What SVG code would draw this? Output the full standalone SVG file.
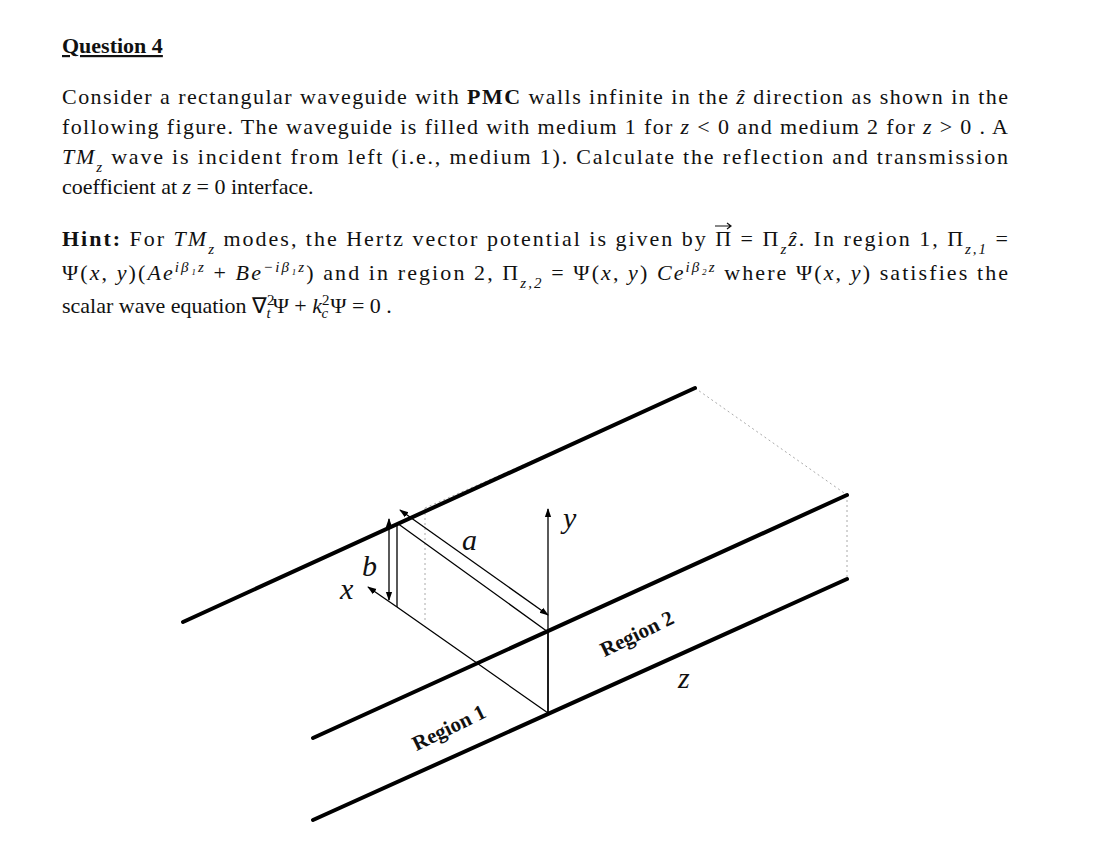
<svg xmlns="http://www.w3.org/2000/svg" width="1106" height="843" viewBox="0 0 1106 843">
<style>
.t{font-family:"Liberation Serif",serif;font-size:22px;fill:#111}
.i{font-style:italic}
.b{font-weight:bold}
.s{font-size:15px}
.th{stroke:#000;stroke-width:4;fill:none;stroke-linecap:round}
.tn{stroke:#000;stroke-width:1.3;fill:none}
.dt{stroke:#aaa;stroke-width:1;stroke-dasharray:2 3;fill:none}
.lab{font-family:"Liberation Serif",serif;font-style:italic;font-size:30px;fill:#111}
.reg{font-family:"Liberation Serif",serif;font-weight:bold;font-size:21px;fill:#111}
</style>
<defs>
<marker id="ah" viewBox="0 0 10 10" refX="9" refY="5" markerWidth="7" markerHeight="7" orient="auto-start-reverse"><path d="M0,1.5 L10,5 L0,8.5 z" fill="#000"/></marker>
</defs>
<rect width="1106" height="843" fill="#fff"/>
<text class="t b" x="62" y="53" font-size="21px" text-decoration="underline">Question 4</text>
<text class="t" x="62" y="104" textLength="946" lengthAdjust="spacing">Consider a rectangular waveguide with <tspan class="b">PMC</tspan> walls infinite in the <tspan class="i">ẑ</tspan> direction as shown in the</text>
<text class="t" x="62" y="134" textLength="946" lengthAdjust="spacing">following figure. The waveguide is filled with medium 1 for <tspan class="i">z</tspan> &lt; 0 and medium 2 for <tspan class="i">z</tspan> &gt; 0 . A</text>
<text class="t" x="62" y="164" textLength="946" lengthAdjust="spacing"><tspan class="i">TM</tspan><tspan class="i s" baseline-shift="sub">z</tspan> wave is incident from left (i.e., medium 1). Calculate the reflection and transmission</text>
<text class="t" x="62" y="194">coefficient at <tspan class="i">z</tspan> = 0 interface.</text>
<text class="t" x="62" y="246" textLength="946" lengthAdjust="spacing"><tspan class="b">Hint:</tspan> For <tspan class="i">TM</tspan><tspan class="i s" baseline-shift="sub">z</tspan> modes, the Hertz vector potential is given by Π = Π<tspan class="i s" baseline-shift="sub">z</tspan><tspan class="i">ẑ</tspan>. In region 1, Π<tspan class="i s" baseline-shift="sub">z,1</tspan> =</text>
<path d="M715,226 L731,226 M727,223 L731,226 L727,229" stroke="#111" stroke-width="1.2" fill="none"/>
<text class="t" x="62" y="280" textLength="946" lengthAdjust="spacing">Ψ(<tspan class="i">x</tspan>, <tspan class="i">y</tspan>)(<tspan class="i">Ae</tspan><tspan class="i s" baseline-shift="super">iβ₁z</tspan> + <tspan class="i">Be</tspan><tspan class="i s" baseline-shift="super">−iβ₁z</tspan>) and in region 2, Π<tspan class="i s" baseline-shift="sub">z,2</tspan> = Ψ(<tspan class="i">x</tspan>, <tspan class="i">y</tspan>) <tspan class="i">Ce</tspan><tspan class="i s" baseline-shift="super">iβ₂z</tspan> where Ψ(<tspan class="i">x</tspan>, <tspan class="i">y</tspan>) satisfies the</text>
<text class="t" x="62" y="313">scalar wave equation ∇<tspan class="s" dy="-8">2</tspan><tspan class="i s" dx="-8" dy="13">t</tspan><tspan dy="-5" dx="2">Ψ + </tspan><tspan class="i">k</tspan><tspan class="s" dy="-8">2</tspan><tspan class="i s" dx="-8" dy="13">c</tspan><tspan dy="-5" dx="2">Ψ = 0 .</tspan></text>
<g id="figure">
<path class="dt" d="M695,388 L847,495 M847,495 L847,579 M425,508 L425,620 M425,508 L580,440"/>
<path class="th" d="M183,622 L695,388"/>
<path class="th" d="M313,738 L847,495"/>
<path class="th" d="M313,820 L847,579"/>
<path class="tn" d="M397,523 L548,632 M397,523 L397,607 M397,607 L548,713 M548,713 L548,632"/>
<path class="tn" d="M548,713 L548,509" marker-end="url(#ah)"/>
<path class="tn" d="M389,519 L389,600" marker-start="url(#ah)" marker-end="url(#ah)"/>
<path class="tn" d="M400,510 L548,615" marker-start="url(#ah)" marker-end="url(#ah)"/>
<path class="tn" d="M397,607 L368,587" marker-end="url(#ah)"/>
<text class="lab" x="362" y="576">b</text>
<text class="lab" x="340" y="599" font-size="26px">x</text>
<text class="lab" x="462" y="550">a</text>
<text class="lab" x="563" y="528">y</text>
<text class="lab" x="678" y="688" font-size="26px">z</text>
<text class="reg" transform="translate(452,734) rotate(-26)" text-anchor="middle">Region 1</text>
<text class="reg" transform="translate(640,640) rotate(-26)" text-anchor="middle">Region 2</text>
</g>
</svg>
